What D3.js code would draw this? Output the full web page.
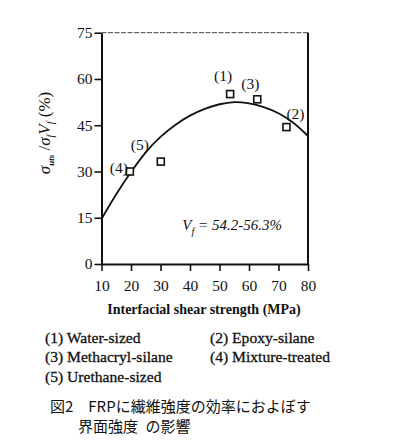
<!DOCTYPE html>
<html>
<head>
<meta charset="utf-8">
<script src="https://cdn.jsdelivr.net/npm/d3@7"></script>
</head>
<body style="margin:0">
<div id="chart"></div>
<script>
// values
const xTicks = [10, 20, 30, 40, 50, 60, 70, 80];
const yTicks = [0, 15, 30, 45, 60, 75];

// measured points: interfacial shear strength (MPa), efficiency (%)
const pointIds = ["(1)", "(2)", "(3)", "(4)", "(5)"];
const pointX = [53.6, 72.7, 62.8, 19.6, 30.1];
const pointY = [55.1, 44.4, 53.4, 30.0, 33.2];

// fitted curve, sampled along the drawn line
const curveX = [10, 15, 20, 25, 30, 35, 40, 45, 50, 55, 60, 65, 70, 75, 80];
const curveY = [14.6, 22.6, 29.8, 36.2, 41.2, 45.1, 48.1, 50.3, 51.8, 52.5, 52.1, 50.9, 48.9, 45.8, 41.5];

const legendItems = [
    "(1) Water-sized", "(2) Epoxy-silane",
    "(3) Methacryl-silane", "(4) Mixture-treated",
    "(5) Urethane-sized"
];
const captionLines = ["図2\u3000FRPに繊維強度の効率におよぼす", "界面強度\u2002の影響"];

// one family name per text element
const SERIF = "'Liberation Serif'";
const CJK = "'Noto Sans CJK JP'";
const INK = "#111";

const W = 403, H = 445;
const plot = { left: 101.5, right: 308, top: 32.7, bottom: 264 };

const svg = d3.select("#chart").append("svg")
    .attr("width", W)
    .attr("height", H);

const x = d3.scaleLinear().domain([10, 80]).range([plot.left, plot.right]);
const y = d3.scaleLinear().domain([0, 75]).range([plot.bottom, plot.top]);

// frame: top and right edges
svg.append("line")
    .attr("x1", plot.left).attr("x2", plot.right)
    .attr("y1", plot.top).attr("y2", plot.top)
    .attr("stroke", "#444").attr("stroke-width", 1)
    .attr("stroke-dasharray", "5,1.5");
svg.append("line")
    .attr("x1", plot.right).attr("x2", plot.right)
    .attr("y1", plot.top).attr("y2", plot.bottom)
    .attr("stroke", INK).attr("stroke-width", 2);

// axes
const xAxis = svg.append("g")
    .attr("transform", `translate(0, ${plot.bottom})`)
    .call(d3.axisBottom(x).tickValues(xTicks).tickSize(7).tickPadding(9).tickSizeOuter(0));
const yAxis = svg.append("g")
    .attr("transform", `translate(${plot.left}, 0)`)
    .call(d3.axisLeft(y).tickValues(yTicks).tickSize(7).tickPadding(2).tickSizeOuter(0));

[xAxis, yAxis].forEach(a => {
    a.attr("font-family", SERIF).attr("font-size", 15);
    a.select(".domain").attr("stroke", INK).attr("stroke-width", 2);
    a.selectAll(".tick line").attr("stroke", INK).attr("stroke-width", 1.6);
    a.selectAll(".tick text")
        .style("font-family", SERIF)
        .style("font-size", "15.5px")
        .attr("fill", INK);
});

// curve
const line = d3.line()
    .x((d, i) => x(curveX[i]))
    .y(d => y(d))
    .curve(d3.curveCatmullRom);
svg.append("path")
    .datum(curveY)
    .attr("d", line)
    .attr("fill", "none")
    .attr("stroke", INK)
    .attr("stroke-width", 1.8);

// square markers
const S = 7;
svg.selectAll("rect.pt")
    .data(pointX)
    .enter()
    .append("rect")
    .attr("class", "pt")
    .attr("x", (d) => x(d) - S / 2)
    .attr("y", (d, i) => y(pointY[i]) - S / 2)
    .attr("width", S)
    .attr("height", S)
    .attr("fill", "#fff")
    .attr("stroke", INK)
    .attr("stroke-width", 1.6);

// point labels, offset from each square in px
const labelOffsets = [[-7, -13], [9, -8], [-7, -10], [-11, 2], [-21, -12]];
svg.selectAll("text.pl")
    .data(pointIds)
    .enter()
    .append("text")
    .attr("class", "pl")
    .attr("x", (d, i) => x(pointX[i]) + labelOffsets[i][0])
    .attr("y", (d, i) => y(pointY[i]) + labelOffsets[i][1])
    .attr("text-anchor", "middle")
    .attr("fill", INK)
    .style("font-family", SERIF)
    .style("font-size", "15.5px")
    .text(d => d);

// Vf annotation
const vf = svg.append("text")
    .attr("x", x(37.4))
    .attr("y", y(11))
    .attr("fill", INK)
    .style("font-family", SERIF)
    .style("font-size", "15px")
    .style("font-style", "italic");
vf.append("tspan").text("V");
vf.append("tspan").style("font-size", "10px").attr("dy", 5).text("f");
vf.append("tspan").attr("dy", -5).text(" = 54.2-56.3%");

// y-axis label, rotated
const yl = svg.append("text")
    .attr("transform", `translate(50, 133) rotate(-90)`)
    .attr("text-anchor", "middle")
    .attr("fill", INK)
    .style("font-family", SERIF)
    .style("font-size", "17px");
yl.append("tspan").style("font-style", "italic").text("σ");
yl.append("tspan").style("font-size", "9px").style("font-weight", "bold").style("font-style", "italic").attr("dy", 4).text("uts");
yl.append("tspan").attr("dy", -4).text(" /");
yl.append("tspan").style("font-style", "italic").text("σ");
yl.append("tspan").style("font-size", "10px").style("font-style", "italic").attr("dy", 4).text("f");
yl.append("tspan").style("font-style", "italic").attr("dy", -4).text("V");
yl.append("tspan").style("font-size", "10px").style("font-style", "italic").attr("dy", 4).text("f");
yl.append("tspan").attr("dy", -4).text(" (%)");

// x-axis label
svg.append("text")
    .attr("x", 204)
    .attr("y", 314)
    .attr("text-anchor", "middle")
    .attr("fill", INK)
    .style("font-family", SERIF)
    .style("font-size", "14px")
    .style("font-weight", "bold")
    .text("Interfacial shear strength (MPa)");

// legend, two columns
const legendCols = [45, 210];
const legendRows = [343, 362, 382];
svg.selectAll("text.lg")
    .data(legendItems)
    .enter()
    .append("text")
    .attr("class", "lg")
    .attr("x", (d, i) => legendCols[i % 2])
    .attr("y", (d, i) => legendRows[Math.floor(i / 2)])
    .attr("fill", INK)
    .attr("stroke", INK)
    .attr("stroke-width", 0.3)
    .style("font-family", SERIF)
    .style("font-size", "15.6px")
    .text(d => d);

// caption
svg.selectAll("text.cap")
    .data(captionLines)
    .enter()
    .append("text")
    .attr("class", "cap")
    .attr("x", (d, i) => i === 0 ? 50 : 78)
    .attr("y", (d, i) => 412 + i * 20)
    .attr("fill", INK)
    .style("font-family", CJK)
    .style("font-size", "15px")
    .text(d => d);
</script>
</body>
</html>
